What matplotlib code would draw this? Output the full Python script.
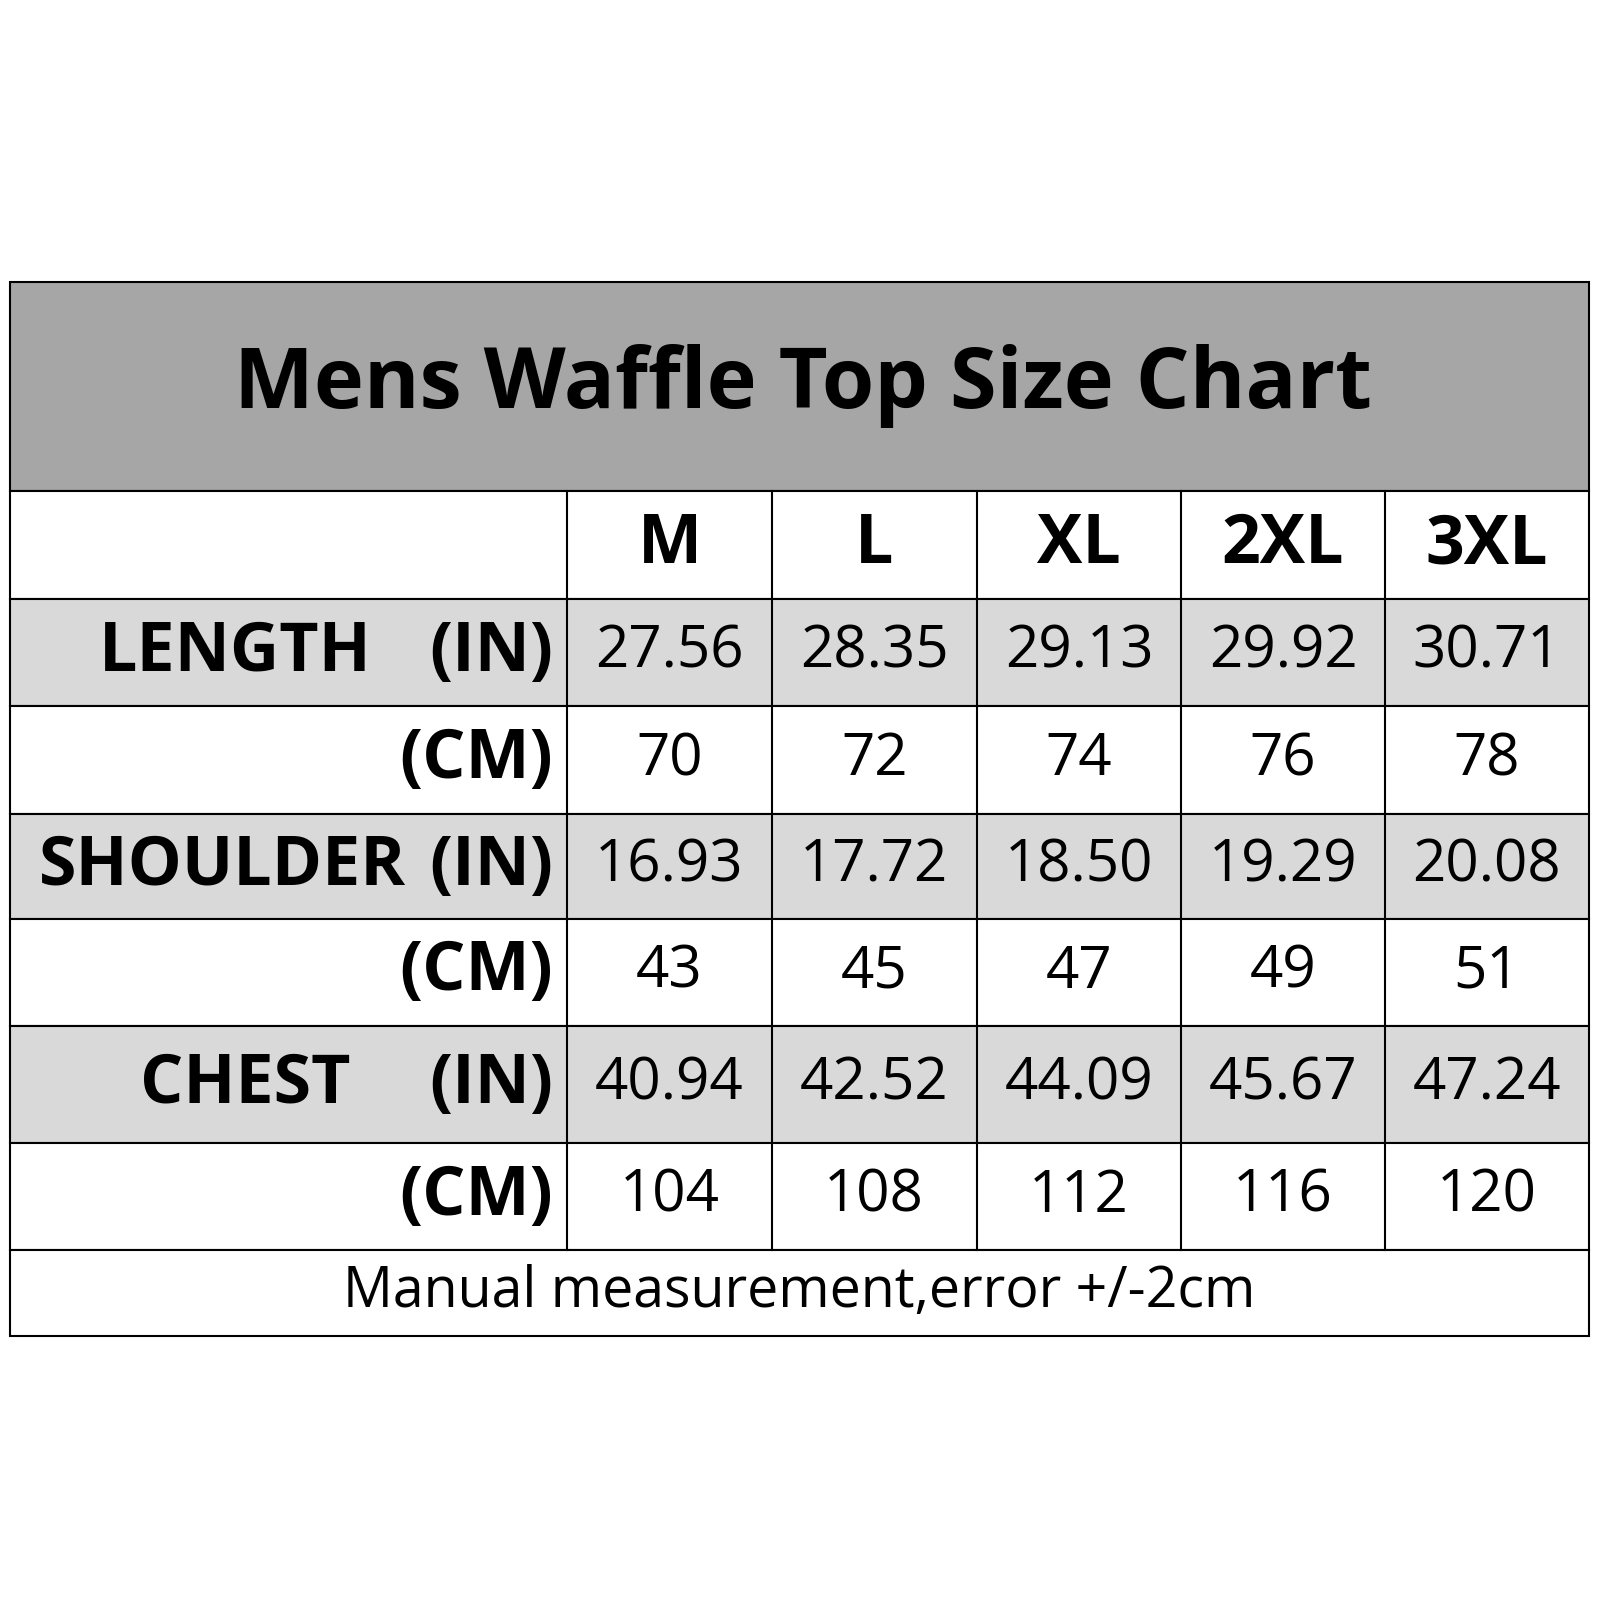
import matplotlib
matplotlib.use("Agg")
import matplotlib.pyplot as plt
from matplotlib.patches import Rectangle

title = "Mens Waffle Top Size Chart"
sizes = ["M", "L", "XL", "2XL", "3XL"]
measures = ["LENGTH", "SHOULDER", "CHEST"]
length_in = ["27.56", "28.35", "29.13", "29.92", "30.71"]
length_cm = ["70", "72", "74", "76", "78"]
shoulder_in = ["16.93", "17.72", "18.50", "19.29", "20.08"]
shoulder_cm = ["43", "45", "47", "49", "51"]
chest_in = ["40.94", "42.52", "44.09", "45.67", "47.24"]
chest_cm = ["104", "108", "112", "116", "120"]
note = "Manual measurement,error +/-2cm"

rows = [length_in, length_cm, shoulder_in, shoulder_cm, chest_in, chest_cm]
units = ["(IN)", "(CM)"] * 3

FONT = ["Open Sans", "DejaVu Sans"]
S = 1600 / 1563
fig = plt.figure(figsize=(16, 16), dpi=100)
ax = fig.add_axes([0, 0, 1, 1])
ax.set_xlim(0, 1600 / S); ax.set_ylim(1600 / S, 0); ax.axis("off")

L, R = 10, 1552
col_x = [10, 554, 754, 954, 1154, 1353, 1552]
row_y = [480, 585, 690, 795, 898, 1002, 1117, 1221, 1305]
top = 275
lw = 1.5

ax.add_patch(Rectangle((L, top), R - L, row_y[0] - top, facecolor="#a6a6a6", edgecolor="black", lw=lw))
ax.text((L + R) / 2 + 3, (top + row_y[0]) / 2, title, ha="center", va="center",
        fontsize=61, fontweight="bold", family=FONT)

for i in range(len(row_y) - 1):
    y0, y1 = row_y[i], row_y[i + 1]
    shade = (i in (1, 3, 5))
    ax.add_patch(Rectangle((L, y0), R - L, y1 - y0, facecolor="#d9d9d9" if shade else "white",
                           edgecolor="black", lw=lw))
for x in col_x[1:-1]:
    ax.plot([x, x], [row_y[0], row_y[-2]], color="black", lw=lw)

for j, s in enumerate(sizes):
    cx = (col_x[j + 1] + col_x[j + 2]) / 2
    ax.text(cx, (row_y[0] + row_y[1]) / 2, s, ha="center", va="center",
            fontsize=49, fontweight="bold", family=FONT)

name_x = [230, 217, 240]
for i, vals in enumerate(rows):
    cy = (row_y[i + 1] + row_y[i + 2]) / 2
    ax.text(540, cy, units[i], ha="right", va="center", fontsize=49, fontweight="bold", family=FONT)
    if i % 2 == 0:
        ax.text(name_x[i // 2], cy, measures[i // 2], ha="center", va="center",
                fontsize=49, fontweight="bold", family=FONT)
    for j, v in enumerate(vals):
        cx = (col_x[j + 1] + col_x[j + 2]) / 2
        ax.text(cx, cy, v, ha="center", va="center", fontsize=42, family=FONT)

ax.text((L + R) / 2, (row_y[-2] + row_y[-1]) / 2, note, ha="center", va="center",
        fontsize=40, family=FONT)

fig.savefig("out.png", dpi=100, facecolor="white")
